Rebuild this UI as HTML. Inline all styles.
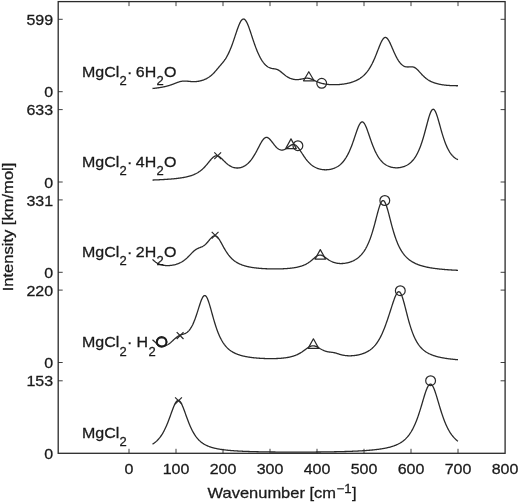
<!DOCTYPE html>
<html><head><meta charset="utf-8"><title>IR spectra</title>
<style>html,body{margin:0;padding:0;background:#fff}svg{display:block}text{font-family:"Liberation Sans",sans-serif;fill:#1a1a1a;stroke:#1a1a1a;stroke-width:0.3px}</style></head><body>
<svg width="520" height="503" viewBox="0 0 520 503">
<rect x="0" y="0" width="520" height="503" fill="#fff"/>
<g fill="none" stroke="#2a2a2a" stroke-width="1.3">
<rect x="58.2" y="1.6" width="446.90000000000003" height="451.7"/>
<path d="M129.00 453.3v-4.5M129.00 1.6v4.5M176.00 453.3v-4.5M176.00 1.6v4.5M223.00 453.3v-4.5M223.00 1.6v4.5M270.00 453.3v-4.5M270.00 1.6v4.5M317.00 453.3v-4.5M317.00 1.6v4.5M364.00 453.3v-4.5M364.00 1.6v4.5M411.00 453.3v-4.5M411.00 1.6v4.5M458.00 453.3v-4.5M458.00 1.6v4.5M58.2 91.70h4.5M505.1 91.70h-4.5M58.2 182.00h4.5M505.1 182.00h-4.5M58.2 272.30h4.5M505.1 272.30h-4.5M58.2 362.50h4.5M505.1 362.50h-4.5M58.2 19.30h4.5M505.1 19.30h-4.5M58.2 109.60h4.5M505.1 109.60h-4.5M58.2 199.90h4.5M505.1 199.90h-4.5M58.2 290.10h4.5M505.1 290.10h-4.5M58.2 380.80h4.5M505.1 380.80h-4.5" stroke-width="0.9"/>
</g>
<g font-size="16" text-anchor="middle">
<text transform="translate(129.0 474) scale(1 0.945)">0</text>
<text transform="translate(176.0 474) scale(1 0.945)">100</text>
<text transform="translate(223.0 474) scale(1 0.945)">200</text>
<text transform="translate(270.0 474) scale(1 0.945)">300</text>
<text transform="translate(317.0 474) scale(1 0.945)">400</text>
<text transform="translate(364.0 474) scale(1 0.945)">500</text>
<text transform="translate(411.0 474) scale(1 0.945)">600</text>
<text transform="translate(458.0 474) scale(1 0.945)">700</text>
<text transform="translate(505.0 474) scale(1 0.945)">800</text>
</g>
<g font-size="16" text-anchor="end">
<text transform="translate(53.1 97.3) scale(1 0.945)">0</text>
<text transform="translate(53.1 24.9) scale(1 0.945)">599</text>
<text transform="translate(53.1 187.6) scale(1 0.945)">0</text>
<text transform="translate(53.1 115.2) scale(1 0.945)">633</text>
<text transform="translate(53.1 277.9) scale(1 0.945)">0</text>
<text transform="translate(53.1 205.5) scale(1 0.945)">331</text>
<text transform="translate(53.1 368.1) scale(1 0.945)">0</text>
<text transform="translate(53.1 295.7) scale(1 0.945)">220</text>
<text transform="translate(53.1 458.8) scale(1 0.945)">0</text>
<text transform="translate(53.1 386.4) scale(1 0.945)">153</text>
</g>
<text transform="translate(207.6 498.2) scale(1.03 0.945)" font-size="16">Wavenumber [cm<tspan font-size="12.8" dy="-5.5" dx="0.5">−1</tspan><tspan dy="5.5" dx="0.5">]</tspan></text>
<text transform="translate(13.4 227) rotate(-90) scale(1.035 0.945)" font-size="16" text-anchor="middle">Intensity [km/mol]</text>
<g fill="none" stroke="#2a2a2a" stroke-width="1.3" stroke-linejoin="round" stroke-linecap="butt">
<path d="M152.50 88.49 L152.97 88.44 L153.44 88.39 L153.91 88.34 L154.38 88.29 L154.85 88.24 L155.32 88.18 L155.79 88.13 L156.26 88.07 L156.73 88.01 L157.20 87.95 L157.67 87.89 L158.14 87.82 L158.61 87.75 L159.08 87.68 L159.55 87.61 L160.02 87.54 L160.49 87.46 L160.96 87.38 L161.43 87.30 L161.90 87.22 L162.37 87.13 L162.84 87.04 L163.31 86.95 L163.78 86.85 L164.25 86.75 L164.72 86.65 L165.19 86.54 L165.66 86.43 L166.13 86.32 L166.60 86.20 L167.07 86.07 L167.54 85.95 L168.01 85.82 L168.48 85.68 L168.95 85.54 L169.42 85.40 L169.89 85.25 L170.36 85.10 L170.83 84.94 L171.30 84.78 L171.77 84.61 L172.24 84.44 L172.71 84.27 L173.18 84.10 L173.65 83.92 L174.12 83.74 L174.59 83.56 L175.06 83.37 L175.53 83.19 L176.00 83.01 L176.47 82.83 L176.94 82.65 L177.41 82.48 L177.88 82.31 L178.35 82.15 L178.82 82.00 L179.29 81.85 L179.76 81.72 L180.23 81.59 L180.70 81.48 L181.17 81.38 L181.64 81.29 L182.11 81.22 L182.58 81.16 L183.05 81.11 L183.52 81.08 L183.99 81.06 L184.46 81.05 L184.93 81.05 L185.40 81.07 L185.87 81.09 L186.34 81.11 L186.81 81.15 L187.28 81.19 L187.75 81.23 L188.22 81.27 L188.69 81.32 L189.16 81.36 L189.63 81.41 L190.10 81.45 L190.57 81.49 L191.04 81.53 L191.51 81.56 L191.98 81.59 L192.45 81.61 L192.92 81.62 L193.39 81.63 L193.86 81.63 L194.33 81.63 L194.80 81.62 L195.27 81.60 L195.74 81.57 L196.21 81.54 L196.68 81.50 L197.15 81.45 L197.62 81.39 L198.09 81.32 L198.56 81.25 L199.03 81.17 L199.50 81.08 L199.97 80.98 L200.44 80.87 L200.91 80.75 L201.38 80.63 L201.85 80.49 L202.32 80.35 L202.79 80.19 L203.26 80.03 L203.73 79.85 L204.20 79.67 L204.67 79.47 L205.14 79.27 L205.61 79.05 L206.08 78.82 L206.55 78.58 L207.02 78.32 L207.49 78.05 L207.96 77.77 L208.43 77.48 L208.90 77.17 L209.37 76.84 L209.84 76.50 L210.31 76.14 L210.78 75.77 L211.25 75.38 L211.72 74.98 L212.19 74.55 L212.66 74.11 L213.13 73.66 L213.60 73.18 L214.07 72.70 L214.54 72.19 L215.01 71.68 L215.48 71.15 L215.95 70.61 L216.42 70.06 L216.89 69.50 L217.36 68.95 L217.83 68.38 L218.30 67.82 L218.77 67.26 L219.24 66.70 L219.71 66.15 L220.18 65.60 L220.65 65.05 L221.12 64.50 L221.59 63.94 L222.06 63.39 L222.53 62.82 L223.00 62.24 L223.47 61.65 L223.94 61.03 L224.41 60.40 L224.88 59.73 L225.35 59.04 L225.82 58.31 L226.29 57.55 L226.76 56.75 L227.23 55.91 L227.70 55.03 L228.17 54.11 L228.64 53.15 L229.11 52.15 L229.58 51.10 L230.05 50.01 L230.52 48.87 L230.99 47.70 L231.46 46.48 L231.93 45.23 L232.40 43.94 L232.87 42.62 L233.34 41.27 L233.81 39.90 L234.28 38.50 L234.75 37.09 L235.22 35.67 L235.69 34.25 L236.16 32.84 L236.63 31.44 L237.10 30.06 L237.57 28.72 L238.04 27.42 L238.51 26.18 L238.98 25.00 L239.45 23.90 L239.92 22.88 L240.39 21.97 L240.86 21.16 L241.33 20.47 L241.80 19.91 L242.27 19.47 L242.74 19.18 L243.21 19.03 L243.68 19.02 L244.15 19.16 L244.62 19.43 L245.09 19.85 L245.56 20.40 L246.03 21.08 L246.50 21.87 L246.97 22.78 L247.44 23.79 L247.91 24.88 L248.38 26.06 L248.85 27.30 L249.32 28.60 L249.79 29.95 L250.26 31.33 L250.73 32.74 L251.20 34.16 L251.67 35.60 L252.14 37.03 L252.61 38.46 L253.08 39.88 L253.55 41.28 L254.02 42.66 L254.49 44.01 L254.96 45.33 L255.43 46.62 L255.90 47.87 L256.37 49.09 L256.84 50.27 L257.31 51.41 L257.78 52.51 L258.25 53.57 L258.72 54.59 L259.19 55.56 L259.66 56.50 L260.13 57.40 L260.60 58.25 L261.07 59.07 L261.54 59.85 L262.01 60.59 L262.48 61.29 L262.95 61.95 L263.42 62.58 L263.89 63.17 L264.36 63.73 L264.83 64.25 L265.30 64.74 L265.77 65.19 L266.24 65.61 L266.71 66.00 L267.18 66.36 L267.65 66.69 L268.12 66.98 L268.59 67.25 L269.06 67.49 L269.53 67.71 L270.00 67.89 L270.47 68.06 L270.94 68.20 L271.41 68.32 L271.88 68.43 L272.35 68.52 L272.82 68.60 L273.29 68.67 L273.76 68.74 L274.23 68.82 L274.70 68.89 L275.17 68.98 L275.64 69.08 L276.11 69.19 L276.58 69.33 L277.05 69.49 L277.52 69.68 L277.99 69.90 L278.46 70.14 L278.93 70.42 L279.40 70.71 L279.87 71.04 L280.34 71.38 L280.81 71.74 L281.28 72.12 L281.75 72.51 L282.22 72.90 L282.69 73.30 L283.16 73.69 L283.63 74.08 L284.10 74.47 L284.57 74.85 L285.04 75.22 L285.51 75.57 L285.98 75.92 L286.45 76.25 L286.92 76.56 L287.39 76.86 L287.86 77.14 L288.33 77.41 L288.80 77.66 L289.27 77.89 L289.74 78.11 L290.21 78.32 L290.68 78.51 L291.15 78.68 L291.62 78.84 L292.09 78.98 L292.56 79.11 L293.03 79.22 L293.50 79.32 L293.97 79.41 L294.44 79.48 L294.91 79.54 L295.38 79.58 L295.85 79.61 L296.32 79.63 L296.79 79.64 L297.26 79.63 L297.73 79.61 L298.20 79.58 L298.67 79.54 L299.14 79.48 L299.61 79.42 L300.08 79.35 L300.55 79.26 L301.02 79.17 L301.49 79.08 L301.96 78.98 L302.43 78.87 L302.90 78.77 L303.37 78.66 L303.84 78.56 L304.31 78.47 L304.78 78.38 L305.25 78.31 L305.72 78.25 L306.19 78.20 L306.66 78.18 L307.13 78.17 L307.60 78.19 L308.07 78.23 L308.54 78.29 L309.01 78.37 L309.48 78.48 L309.95 78.61 L310.42 78.76 L310.89 78.92 L311.36 79.10 L311.83 79.30 L312.30 79.51 L312.77 79.72 L313.24 79.94 L313.71 80.16 L314.18 80.39 L314.65 80.61 L315.12 80.84 L315.59 81.06 L316.06 81.27 L316.53 81.48 L317.00 81.69 L317.47 81.88 L317.94 82.07 L318.41 82.26 L318.88 82.43 L319.35 82.60 L319.82 82.76 L320.29 82.91 L320.76 83.05 L321.23 83.19 L321.70 83.31 L322.17 83.44 L322.64 83.55 L323.11 83.66 L323.58 83.76 L324.05 83.85 L324.52 83.94 L324.99 84.03 L325.46 84.10 L325.93 84.17 L326.40 84.24 L326.87 84.30 L327.34 84.36 L327.81 84.41 L328.28 84.46 L328.75 84.50 L329.22 84.54 L329.69 84.57 L330.16 84.61 L330.63 84.63 L331.10 84.66 L331.57 84.67 L332.04 84.69 L332.51 84.70 L332.98 84.71 L333.45 84.72 L333.92 84.72 L334.39 84.72 L334.86 84.71 L335.33 84.71 L335.80 84.69 L336.27 84.68 L336.74 84.66 L337.21 84.64 L337.68 84.62 L338.15 84.59 L338.62 84.56 L339.09 84.53 L339.56 84.49 L340.03 84.45 L340.50 84.41 L340.97 84.37 L341.44 84.32 L341.91 84.26 L342.38 84.21 L342.85 84.15 L343.32 84.09 L343.79 84.02 L344.26 83.95 L344.73 83.88 L345.20 83.80 L345.67 83.72 L346.14 83.63 L346.61 83.54 L347.08 83.44 L347.55 83.35 L348.02 83.24 L348.49 83.13 L348.96 83.02 L349.43 82.90 L349.90 82.78 L350.37 82.65 L350.84 82.52 L351.31 82.38 L351.78 82.23 L352.25 82.08 L352.72 81.92 L353.19 81.75 L353.66 81.58 L354.13 81.40 L354.60 81.21 L355.07 81.02 L355.54 80.81 L356.01 80.60 L356.48 80.38 L356.95 80.15 L357.42 79.91 L357.89 79.65 L358.36 79.39 L358.83 79.12 L359.30 78.83 L359.77 78.54 L360.24 78.23 L360.71 77.90 L361.18 77.56 L361.65 77.21 L362.12 76.84 L362.59 76.46 L363.06 76.06 L363.53 75.64 L364.00 75.20 L364.47 74.74 L364.94 74.27 L365.41 73.77 L365.88 73.25 L366.35 72.70 L366.82 72.13 L367.29 71.54 L367.76 70.92 L368.23 70.27 L368.70 69.60 L369.17 68.89 L369.64 68.15 L370.11 67.39 L370.58 66.59 L371.05 65.76 L371.52 64.89 L371.99 64.00 L372.46 63.06 L372.93 62.10 L373.40 61.10 L373.87 60.06 L374.34 59.00 L374.81 57.90 L375.28 56.78 L375.75 55.62 L376.22 54.45 L376.69 53.26 L377.16 52.05 L377.63 50.83 L378.10 49.62 L378.57 48.40 L379.04 47.21 L379.51 46.03 L379.98 44.88 L380.45 43.78 L380.92 42.73 L381.39 41.75 L381.86 40.84 L382.33 40.02 L382.80 39.30 L383.27 38.68 L383.74 38.18 L384.21 37.80 L384.68 37.55 L385.15 37.42 L385.62 37.43 L386.09 37.57 L386.56 37.84 L387.03 38.22 L387.50 38.73 L387.97 39.34 L388.44 40.04 L388.91 40.84 L389.38 41.71 L389.85 42.64 L390.32 43.63 L390.79 44.66 L391.26 45.73 L391.73 46.81 L392.20 47.90 L392.67 49.00 L393.14 50.10 L393.61 51.18 L394.08 52.24 L394.55 53.28 L395.02 54.30 L395.49 55.28 L395.96 56.23 L396.43 57.14 L396.90 58.01 L397.37 58.85 L397.84 59.64 L398.31 60.39 L398.78 61.10 L399.25 61.76 L399.72 62.39 L400.19 62.96 L400.66 63.50 L401.13 64.00 L401.60 64.45 L402.07 64.86 L402.54 65.24 L403.01 65.57 L403.48 65.86 L403.95 66.12 L404.42 66.34 L404.89 66.52 L405.36 66.67 L405.83 66.79 L406.30 66.88 L406.77 66.94 L407.24 66.97 L407.71 66.99 L408.18 66.98 L408.65 66.96 L409.12 66.93 L409.59 66.89 L410.06 66.86 L410.53 66.83 L411.00 66.80 L411.47 66.80 L411.94 66.82 L412.41 66.86 L412.88 66.93 L413.35 67.05 L413.82 67.20 L414.29 67.39 L414.76 67.62 L415.23 67.90 L415.70 68.22 L416.17 68.57 L416.64 68.97 L417.11 69.39 L417.58 69.84 L418.05 70.32 L418.52 70.82 L418.99 71.33 L419.46 71.84 L419.93 72.37 L420.40 72.89 L420.87 73.41 L421.34 73.93 L421.81 74.44 L422.28 74.93 L422.75 75.42 L423.22 75.89 L423.69 76.34 L424.16 76.78 L424.63 77.21 L425.10 77.62 L425.57 78.01 L426.04 78.39 L426.51 78.75 L426.98 79.09 L427.45 79.42 L427.92 79.74 L428.39 80.04 L428.86 80.32 L429.33 80.60 L429.80 80.86 L430.27 81.11 L430.74 81.35 L431.21 81.57 L431.68 81.79 L432.15 82.00 L432.62 82.19 L433.09 82.38 L433.56 82.56 L434.03 82.73 L434.50 82.90 L434.97 83.05 L435.44 83.20 L435.91 83.34 L436.38 83.48 L436.85 83.61 L437.32 83.73 L437.79 83.85 L438.26 83.96 L438.73 84.07 L439.20 84.17 L439.67 84.27 L440.14 84.36 L440.61 84.45 L441.08 84.53 L441.55 84.62 L442.02 84.69 L442.49 84.77 L442.96 84.84 L443.43 84.90 L443.90 84.96 L444.37 85.02 L444.84 85.08 L445.31 85.14 L445.78 85.19 L446.25 85.23 L446.72 85.28 L447.19 85.32 L447.66 85.36 L448.13 85.40 L448.60 85.44 L449.07 85.47 L449.54 85.50 L450.01 85.53 L450.48 85.56 L450.95 85.58 L451.42 85.61 L451.89 85.63 L452.36 85.65 L452.83 85.66 L453.30 85.68 L453.77 85.69 L454.24 85.70 L454.71 85.71 L455.18 85.72 L455.65 85.72 L456.12 85.73 L456.59 85.73 L457.06 85.73 L457.53 85.73 L458.00 85.72"/>
<path d="M152.50 180.05 L152.97 180.03 L153.44 180.01 L153.91 179.99 L154.38 179.97 L154.85 179.95 L155.32 179.93 L155.79 179.91 L156.26 179.89 L156.73 179.87 L157.20 179.85 L157.67 179.83 L158.14 179.81 L158.61 179.79 L159.08 179.76 L159.55 179.74 L160.02 179.72 L160.49 179.69 L160.96 179.67 L161.43 179.65 L161.90 179.62 L162.37 179.59 L162.84 179.57 L163.31 179.54 L163.78 179.51 L164.25 179.49 L164.72 179.46 L165.19 179.43 L165.66 179.40 L166.13 179.37 L166.60 179.34 L167.07 179.31 L167.54 179.27 L168.01 179.24 L168.48 179.21 L168.95 179.17 L169.42 179.14 L169.89 179.10 L170.36 179.06 L170.83 179.03 L171.30 178.99 L171.77 178.95 L172.24 178.91 L172.71 178.86 L173.18 178.82 L173.65 178.78 L174.12 178.73 L174.59 178.69 L175.06 178.64 L175.53 178.59 L176.00 178.54 L176.47 178.49 L176.94 178.43 L177.41 178.38 L177.88 178.32 L178.35 178.26 L178.82 178.20 L179.29 178.14 L179.76 178.08 L180.23 178.01 L180.70 177.95 L181.17 177.88 L181.64 177.81 L182.11 177.73 L182.58 177.66 L183.05 177.58 L183.52 177.49 L183.99 177.41 L184.46 177.32 L184.93 177.23 L185.40 177.14 L185.87 177.04 L186.34 176.94 L186.81 176.83 L187.28 176.72 L187.75 176.61 L188.22 176.49 L188.69 176.37 L189.16 176.24 L189.63 176.11 L190.10 175.97 L190.57 175.82 L191.04 175.67 L191.51 175.52 L191.98 175.35 L192.45 175.18 L192.92 175.00 L193.39 174.82 L193.86 174.62 L194.33 174.42 L194.80 174.21 L195.27 173.99 L195.74 173.76 L196.21 173.52 L196.68 173.27 L197.15 173.00 L197.62 172.73 L198.09 172.44 L198.56 172.14 L199.03 171.83 L199.50 171.51 L199.97 171.17 L200.44 170.82 L200.91 170.45 L201.38 170.07 L201.85 169.67 L202.32 169.26 L202.79 168.83 L203.26 168.39 L203.73 167.93 L204.20 167.45 L204.67 166.96 L205.14 166.45 L205.61 165.93 L206.08 165.40 L206.55 164.85 L207.02 164.30 L207.49 163.73 L207.96 163.16 L208.43 162.58 L208.90 162.00 L209.37 161.42 L209.84 160.84 L210.31 160.27 L210.78 159.72 L211.25 159.18 L211.72 158.66 L212.19 158.18 L212.66 157.72 L213.13 157.30 L213.60 156.92 L214.07 156.60 L214.54 156.32 L215.01 156.09 L215.48 155.93 L215.95 155.82 L216.42 155.77 L216.89 155.78 L217.36 155.86 L217.83 155.98 L218.30 156.17 L218.77 156.40 L219.24 156.68 L219.71 157.00 L220.18 157.35 L220.65 157.74 L221.12 158.15 L221.59 158.58 L222.06 159.03 L222.53 159.49 L223.00 159.96 L223.47 160.43 L223.94 160.90 L224.41 161.36 L224.88 161.82 L225.35 162.27 L225.82 162.71 L226.29 163.13 L226.76 163.54 L227.23 163.93 L227.70 164.31 L228.17 164.67 L228.64 165.01 L229.11 165.33 L229.58 165.64 L230.05 165.92 L230.52 166.19 L230.99 166.44 L231.46 166.67 L231.93 166.88 L232.40 167.07 L232.87 167.24 L233.34 167.40 L233.81 167.54 L234.28 167.66 L234.75 167.76 L235.22 167.85 L235.69 167.91 L236.16 167.96 L236.63 168.00 L237.10 168.01 L237.57 168.01 L238.04 167.99 L238.51 167.96 L238.98 167.91 L239.45 167.84 L239.92 167.75 L240.39 167.65 L240.86 167.53 L241.33 167.39 L241.80 167.23 L242.27 167.06 L242.74 166.87 L243.21 166.65 L243.68 166.42 L244.15 166.17 L244.62 165.91 L245.09 165.62 L245.56 165.31 L246.03 164.97 L246.50 164.62 L246.97 164.25 L247.44 163.85 L247.91 163.43 L248.38 162.99 L248.85 162.52 L249.32 162.03 L249.79 161.51 L250.26 160.97 L250.73 160.40 L251.20 159.81 L251.67 159.19 L252.14 158.54 L252.61 157.87 L253.08 157.17 L253.55 156.44 L254.02 155.69 L254.49 154.91 L254.96 154.11 L255.43 153.29 L255.90 152.45 L256.37 151.58 L256.84 150.70 L257.31 149.81 L257.78 148.91 L258.25 148.00 L258.72 147.09 L259.19 146.18 L259.66 145.28 L260.13 144.40 L260.60 143.54 L261.07 142.71 L261.54 141.91 L262.01 141.16 L262.48 140.45 L262.95 139.81 L263.42 139.23 L263.89 138.72 L264.36 138.29 L264.83 137.94 L265.30 137.67 L265.77 137.50 L266.24 137.40 L266.71 137.40 L267.18 137.48 L267.65 137.64 L268.12 137.88 L268.59 138.19 L269.06 138.56 L269.53 139.00 L270.00 139.48 L270.47 140.00 L270.94 140.56 L271.41 141.15 L271.88 141.75 L272.35 142.36 L272.82 142.98 L273.29 143.60 L273.76 144.21 L274.23 144.81 L274.70 145.39 L275.17 145.94 L275.64 146.47 L276.11 146.97 L276.58 147.44 L277.05 147.88 L277.52 148.28 L277.99 148.64 L278.46 148.96 L278.93 149.24 L279.40 149.48 L279.87 149.68 L280.34 149.84 L280.81 149.95 L281.28 150.03 L281.75 150.06 L282.22 150.06 L282.69 150.01 L283.16 149.92 L283.63 149.80 L284.10 149.64 L284.57 149.45 L285.04 149.22 L285.51 148.97 L285.98 148.68 L286.45 148.38 L286.92 148.05 L287.39 147.71 L287.86 147.36 L288.33 147.00 L288.80 146.65 L289.27 146.30 L289.74 145.96 L290.21 145.64 L290.68 145.34 L291.15 145.08 L291.62 144.85 L292.09 144.67 L292.56 144.54 L293.03 144.46 L293.50 144.44 L293.97 144.49 L294.44 144.60 L294.91 144.77 L295.38 145.01 L295.85 145.32 L296.32 145.69 L296.79 146.12 L297.26 146.60 L297.73 147.13 L298.20 147.71 L298.67 148.33 L299.14 148.98 L299.61 149.65 L300.08 150.35 L300.55 151.07 L301.02 151.79 L301.49 152.52 L301.96 153.26 L302.43 153.99 L302.90 154.71 L303.37 155.43 L303.84 156.13 L304.31 156.82 L304.78 157.49 L305.25 158.15 L305.72 158.79 L306.19 159.40 L306.66 160.00 L307.13 160.57 L307.60 161.13 L308.07 161.66 L308.54 162.18 L309.01 162.67 L309.48 163.14 L309.95 163.59 L310.42 164.02 L310.89 164.43 L311.36 164.82 L311.83 165.19 L312.30 165.54 L312.77 165.87 L313.24 166.19 L313.71 166.49 L314.18 166.78 L314.65 167.04 L315.12 167.30 L315.59 167.53 L316.06 167.76 L316.53 167.97 L317.00 168.16 L317.47 168.35 L317.94 168.52 L318.41 168.67 L318.88 168.82 L319.35 168.96 L319.82 169.08 L320.29 169.19 L320.76 169.29 L321.23 169.38 L321.70 169.47 L322.17 169.54 L322.64 169.60 L323.11 169.65 L323.58 169.70 L324.05 169.73 L324.52 169.75 L324.99 169.77 L325.46 169.78 L325.93 169.78 L326.40 169.77 L326.87 169.75 L327.34 169.72 L327.81 169.68 L328.28 169.64 L328.75 169.58 L329.22 169.52 L329.69 169.44 L330.16 169.36 L330.63 169.27 L331.10 169.17 L331.57 169.06 L332.04 168.93 L332.51 168.80 L332.98 168.65 L333.45 168.50 L333.92 168.33 L334.39 168.15 L334.86 167.96 L335.33 167.75 L335.80 167.53 L336.27 167.29 L336.74 167.04 L337.21 166.77 L337.68 166.49 L338.15 166.19 L338.62 165.87 L339.09 165.53 L339.56 165.17 L340.03 164.79 L340.50 164.39 L340.97 163.97 L341.44 163.52 L341.91 163.05 L342.38 162.55 L342.85 162.02 L343.32 161.47 L343.79 160.88 L344.26 160.27 L344.73 159.62 L345.20 158.94 L345.67 158.23 L346.14 157.48 L346.61 156.69 L347.08 155.87 L347.55 155.01 L348.02 154.11 L348.49 153.16 L348.96 152.18 L349.43 151.15 L349.90 150.09 L350.37 148.98 L350.84 147.83 L351.31 146.64 L351.78 145.42 L352.25 144.15 L352.72 142.85 L353.19 141.52 L353.66 140.17 L354.13 138.79 L354.60 137.40 L355.07 136.00 L355.54 134.61 L356.01 133.22 L356.48 131.85 L356.95 130.52 L357.42 129.24 L357.89 128.01 L358.36 126.86 L358.83 125.79 L359.30 124.83 L359.77 123.99 L360.24 123.27 L360.71 122.70 L361.18 122.27 L361.65 122.00 L362.12 121.90 L362.59 121.95 L363.06 122.17 L363.53 122.54 L364.00 123.07 L364.47 123.74 L364.94 124.54 L365.41 125.46 L365.88 126.48 L366.35 127.60 L366.82 128.79 L367.29 130.04 L367.76 131.35 L368.23 132.69 L368.70 134.05 L369.17 135.43 L369.64 136.81 L370.11 138.18 L370.58 139.54 L371.05 140.88 L371.52 142.19 L371.99 143.47 L372.46 144.72 L372.93 145.94 L373.40 147.11 L373.87 148.25 L374.34 149.34 L374.81 150.40 L375.28 151.41 L375.75 152.38 L376.22 153.31 L376.69 154.19 L377.16 155.04 L377.63 155.85 L378.10 156.62 L378.57 157.35 L379.04 158.05 L379.51 158.71 L379.98 159.34 L380.45 159.94 L380.92 160.51 L381.39 161.04 L381.86 161.55 L382.33 162.03 L382.80 162.48 L383.27 162.91 L383.74 163.31 L384.21 163.69 L384.68 164.05 L385.15 164.38 L385.62 164.70 L386.09 164.99 L386.56 165.27 L387.03 165.53 L387.50 165.77 L387.97 165.99 L388.44 166.20 L388.91 166.39 L389.38 166.57 L389.85 166.74 L390.32 166.89 L390.79 167.03 L391.26 167.15 L391.73 167.27 L392.20 167.37 L392.67 167.46 L393.14 167.54 L393.61 167.61 L394.08 167.66 L394.55 167.71 L395.02 167.75 L395.49 167.78 L395.96 167.79 L396.43 167.80 L396.90 167.80 L397.37 167.78 L397.84 167.76 L398.31 167.73 L398.78 167.69 L399.25 167.64 L399.72 167.58 L400.19 167.51 L400.66 167.42 L401.13 167.33 L401.60 167.23 L402.07 167.12 L402.54 166.99 L403.01 166.86 L403.48 166.71 L403.95 166.55 L404.42 166.37 L404.89 166.19 L405.36 165.99 L405.83 165.77 L406.30 165.54 L406.77 165.30 L407.24 165.04 L407.71 164.76 L408.18 164.46 L408.65 164.15 L409.12 163.81 L409.59 163.45 L410.06 163.08 L410.53 162.67 L411.00 162.25 L411.47 161.80 L411.94 161.32 L412.41 160.82 L412.88 160.28 L413.35 159.72 L413.82 159.12 L414.29 158.49 L414.76 157.82 L415.23 157.12 L415.70 156.37 L416.17 155.59 L416.64 154.76 L417.11 153.90 L417.58 152.98 L418.05 152.02 L418.52 151.01 L418.99 149.94 L419.46 148.83 L419.93 147.66 L420.40 146.44 L420.87 145.16 L421.34 143.83 L421.81 142.44 L422.28 141.00 L422.75 139.50 L423.22 137.95 L423.69 136.35 L424.16 134.71 L424.63 133.02 L425.10 131.29 L425.57 129.54 L426.04 127.77 L426.51 125.99 L426.98 124.21 L427.45 122.45 L427.92 120.72 L428.39 119.05 L428.86 117.44 L429.33 115.92 L429.80 114.51 L430.27 113.23 L430.74 112.10 L431.21 111.14 L431.68 110.36 L432.15 109.78 L432.62 109.40 L433.09 109.25 L433.56 109.31 L434.03 109.58 L434.50 110.07 L434.97 110.75 L435.44 111.62 L435.91 112.66 L436.38 113.85 L436.85 115.18 L437.32 116.61 L437.79 118.13 L438.26 119.72 L438.73 121.37 L439.20 123.05 L439.67 124.74 L440.14 126.45 L440.61 128.14 L441.08 129.81 L441.55 131.46 L442.02 133.06 L442.49 134.63 L442.96 136.15 L443.43 137.62 L443.90 139.04 L444.37 140.40 L444.84 141.71 L445.31 142.96 L445.78 144.16 L446.25 145.30 L446.72 146.38 L447.19 147.41 L447.66 148.39 L448.13 149.31 L448.60 150.19 L449.07 151.01 L449.54 151.79 L450.01 152.53 L450.48 153.22 L450.95 153.87 L451.42 154.48 L451.89 155.05 L452.36 155.58 L452.83 156.08 L453.30 156.54 L453.77 156.98 L454.24 157.38 L454.71 157.75 L455.18 158.09 L455.65 158.41 L456.12 158.70 L456.59 158.97 L457.06 159.21 L457.53 159.43 L458.00 159.63"/>
<path d="M152.50 259.36 L152.97 259.82 L153.44 260.27 L153.91 260.69 L154.38 261.10 L154.85 261.49 L155.32 261.85 L155.79 262.19 L156.26 262.51 L156.73 262.82 L157.20 263.10 L157.67 263.36 L158.14 263.60 L158.61 263.82 L159.08 264.03 L159.55 264.22 L160.02 264.40 L160.49 264.56 L160.96 264.70 L161.43 264.84 L161.90 264.96 L162.37 265.07 L162.84 265.16 L163.31 265.25 L163.78 265.33 L164.25 265.39 L164.72 265.45 L165.19 265.49 L165.66 265.53 L166.13 265.56 L166.60 265.58 L167.07 265.60 L167.54 265.60 L168.01 265.60 L168.48 265.59 L168.95 265.57 L169.42 265.54 L169.89 265.51 L170.36 265.47 L170.83 265.42 L171.30 265.36 L171.77 265.30 L172.24 265.23 L172.71 265.15 L173.18 265.07 L173.65 264.97 L174.12 264.87 L174.59 264.76 L175.06 264.65 L175.53 264.52 L176.00 264.39 L176.47 264.24 L176.94 264.09 L177.41 263.93 L177.88 263.76 L178.35 263.57 L178.82 263.38 L179.29 263.18 L179.76 262.96 L180.23 262.73 L180.70 262.50 L181.17 262.24 L181.64 261.98 L182.11 261.70 L182.58 261.41 L183.05 261.11 L183.52 260.79 L183.99 260.45 L184.46 260.10 L184.93 259.74 L185.40 259.36 L185.87 258.97 L186.34 258.56 L186.81 258.14 L187.28 257.70 L187.75 257.25 L188.22 256.79 L188.69 256.32 L189.16 255.84 L189.63 255.35 L190.10 254.86 L190.57 254.36 L191.04 253.87 L191.51 253.38 L191.98 252.90 L192.45 252.42 L192.92 251.96 L193.39 251.52 L193.86 251.09 L194.33 250.69 L194.80 250.31 L195.27 249.96 L195.74 249.63 L196.21 249.32 L196.68 249.05 L197.15 248.79 L197.62 248.56 L198.09 248.34 L198.56 248.14 L199.03 247.95 L199.50 247.76 L199.97 247.58 L200.44 247.40 L200.91 247.21 L201.38 247.01 L201.85 246.79 L202.32 246.56 L202.79 246.30 L203.26 246.02 L203.73 245.72 L204.20 245.38 L204.67 245.02 L205.14 244.63 L205.61 244.21 L206.08 243.76 L206.55 243.28 L207.02 242.78 L207.49 242.25 L207.96 241.71 L208.43 241.15 L208.90 240.58 L209.37 240.01 L209.84 239.44 L210.31 238.89 L210.78 238.35 L211.25 237.84 L211.72 237.36 L212.19 236.93 L212.66 236.55 L213.13 236.24 L213.60 235.99 L214.07 235.82 L214.54 235.73 L215.01 235.73 L215.48 235.82 L215.95 235.99 L216.42 236.26 L216.89 236.61 L217.36 237.04 L217.83 237.55 L218.30 238.13 L218.77 238.77 L219.24 239.47 L219.71 240.22 L220.18 241.01 L220.65 241.82 L221.12 242.66 L221.59 243.52 L222.06 244.38 L222.53 245.25 L223.00 246.11 L223.47 246.97 L223.94 247.81 L224.41 248.64 L224.88 249.45 L225.35 250.24 L225.82 251.00 L226.29 251.75 L226.76 252.47 L227.23 253.16 L227.70 253.83 L228.17 254.47 L228.64 255.09 L229.11 255.68 L229.58 256.25 L230.05 256.80 L230.52 257.32 L230.99 257.82 L231.46 258.30 L231.93 258.75 L232.40 259.19 L232.87 259.61 L233.34 260.01 L233.81 260.39 L234.28 260.76 L234.75 261.10 L235.22 261.44 L235.69 261.76 L236.16 262.06 L236.63 262.35 L237.10 262.63 L237.57 262.90 L238.04 263.15 L238.51 263.40 L238.98 263.63 L239.45 263.86 L239.92 264.07 L240.39 264.28 L240.86 264.48 L241.33 264.66 L241.80 264.85 L242.27 265.02 L242.74 265.19 L243.21 265.35 L243.68 265.50 L244.15 265.65 L244.62 265.79 L245.09 265.93 L245.56 266.06 L246.03 266.18 L246.50 266.31 L246.97 266.42 L247.44 266.53 L247.91 266.64 L248.38 266.74 L248.85 266.84 L249.32 266.94 L249.79 267.03 L250.26 267.12 L250.73 267.21 L251.20 267.29 L251.67 267.37 L252.14 267.44 L252.61 267.52 L253.08 267.59 L253.55 267.66 L254.02 267.72 L254.49 267.79 L254.96 267.85 L255.43 267.90 L255.90 267.96 L256.37 268.01 L256.84 268.07 L257.31 268.12 L257.78 268.16 L258.25 268.21 L258.72 268.26 L259.19 268.30 L259.66 268.34 L260.13 268.38 L260.60 268.42 L261.07 268.45 L261.54 268.49 L262.01 268.52 L262.48 268.55 L262.95 268.58 L263.42 268.61 L263.89 268.64 L264.36 268.66 L264.83 268.69 L265.30 268.71 L265.77 268.73 L266.24 268.75 L266.71 268.77 L267.18 268.79 L267.65 268.81 L268.12 268.83 L268.59 268.84 L269.06 268.86 L269.53 268.87 L270.00 268.88 L270.47 268.89 L270.94 268.90 L271.41 268.91 L271.88 268.92 L272.35 268.92 L272.82 268.93 L273.29 268.93 L273.76 268.93 L274.23 268.94 L274.70 268.94 L275.17 268.94 L275.64 268.94 L276.11 268.93 L276.58 268.93 L277.05 268.93 L277.52 268.92 L277.99 268.91 L278.46 268.90 L278.93 268.90 L279.40 268.89 L279.87 268.87 L280.34 268.86 L280.81 268.85 L281.28 268.83 L281.75 268.82 L282.22 268.80 L282.69 268.78 L283.16 268.76 L283.63 268.74 L284.10 268.71 L284.57 268.69 L285.04 268.66 L285.51 268.63 L285.98 268.60 L286.45 268.57 L286.92 268.54 L287.39 268.50 L287.86 268.47 L288.33 268.43 L288.80 268.39 L289.27 268.34 L289.74 268.30 L290.21 268.25 L290.68 268.20 L291.15 268.15 L291.62 268.09 L292.09 268.03 L292.56 267.97 L293.03 267.91 L293.50 267.84 L293.97 267.77 L294.44 267.70 L294.91 267.62 L295.38 267.54 L295.85 267.46 L296.32 267.37 L296.79 267.28 L297.26 267.18 L297.73 267.08 L298.20 266.97 L298.67 266.86 L299.14 266.74 L299.61 266.62 L300.08 266.49 L300.55 266.35 L301.02 266.20 L301.49 266.05 L301.96 265.90 L302.43 265.73 L302.90 265.55 L303.37 265.37 L303.84 265.18 L304.31 264.98 L304.78 264.76 L305.25 264.54 L305.72 264.31 L306.19 264.06 L306.66 263.80 L307.13 263.53 L307.60 263.25 L308.07 262.96 L308.54 262.65 L309.01 262.33 L309.48 262.00 L309.95 261.65 L310.42 261.29 L310.89 260.92 L311.36 260.54 L311.83 260.15 L312.30 259.75 L312.77 259.35 L313.24 258.95 L313.71 258.54 L314.18 258.14 L314.65 257.74 L315.12 257.35 L315.59 256.98 L316.06 256.63 L316.53 256.30 L317.00 256.00 L317.47 255.74 L317.94 255.52 L318.41 255.33 L318.88 255.20 L319.35 255.11 L319.82 255.06 L320.29 255.07 L320.76 255.13 L321.23 255.23 L321.70 255.37 L322.17 255.56 L322.64 255.78 L323.11 256.03 L323.58 256.31 L324.05 256.62 L324.52 256.94 L324.99 257.27 L325.46 257.61 L325.93 257.95 L326.40 258.29 L326.87 258.63 L327.34 258.97 L327.81 259.30 L328.28 259.62 L328.75 259.93 L329.22 260.22 L329.69 260.51 L330.16 260.78 L330.63 261.04 L331.10 261.28 L331.57 261.51 L332.04 261.72 L332.51 261.92 L332.98 262.11 L333.45 262.29 L333.92 262.45 L334.39 262.60 L334.86 262.73 L335.33 262.86 L335.80 262.97 L336.27 263.07 L336.74 263.16 L337.21 263.24 L337.68 263.31 L338.15 263.37 L338.62 263.42 L339.09 263.46 L339.56 263.49 L340.03 263.52 L340.50 263.53 L340.97 263.54 L341.44 263.53 L341.91 263.52 L342.38 263.51 L342.85 263.48 L343.32 263.44 L343.79 263.40 L344.26 263.35 L344.73 263.29 L345.20 263.23 L345.67 263.15 L346.14 263.07 L346.61 262.98 L347.08 262.88 L347.55 262.78 L348.02 262.66 L348.49 262.54 L348.96 262.41 L349.43 262.27 L349.90 262.12 L350.37 261.96 L350.84 261.80 L351.31 261.62 L351.78 261.43 L352.25 261.23 L352.72 261.03 L353.19 260.81 L353.66 260.58 L354.13 260.33 L354.60 260.08 L355.07 259.81 L355.54 259.53 L356.01 259.23 L356.48 258.92 L356.95 258.60 L357.42 258.26 L357.89 257.90 L358.36 257.52 L358.83 257.13 L359.30 256.71 L359.77 256.28 L360.24 255.82 L360.71 255.34 L361.18 254.84 L361.65 254.31 L362.12 253.76 L362.59 253.18 L363.06 252.57 L363.53 251.94 L364.00 251.27 L364.47 250.56 L364.94 249.82 L365.41 249.05 L365.88 248.24 L366.35 247.38 L366.82 246.49 L367.29 245.55 L367.76 244.56 L368.23 243.53 L368.70 242.45 L369.17 241.32 L369.64 240.13 L370.11 238.90 L370.58 237.60 L371.05 236.26 L371.52 234.85 L371.99 233.39 L372.46 231.88 L372.93 230.31 L373.40 228.69 L373.87 227.02 L374.34 225.31 L374.81 223.56 L375.28 221.78 L375.75 219.98 L376.22 218.16 L376.69 216.35 L377.16 214.55 L377.63 212.78 L378.10 211.05 L378.57 209.39 L379.04 207.82 L379.51 206.35 L379.98 205.00 L380.45 203.80 L380.92 202.77 L381.39 201.92 L381.86 201.26 L382.33 200.81 L382.80 200.58 L383.27 200.57 L383.74 200.78 L384.21 201.21 L384.68 201.85 L385.15 202.69 L385.62 203.71 L386.09 204.90 L386.56 206.24 L387.03 207.70 L387.50 209.28 L387.97 210.94 L388.44 212.67 L388.91 214.45 L389.38 216.27 L389.85 218.09 L390.32 219.93 L390.79 221.75 L391.26 223.55 L391.73 225.32 L392.20 227.05 L392.67 228.74 L393.14 230.39 L393.61 231.98 L394.08 233.52 L394.55 235.01 L395.02 236.44 L395.49 237.81 L395.96 239.13 L396.43 240.40 L396.90 241.61 L397.37 242.77 L397.84 243.88 L398.31 244.94 L398.78 245.95 L399.25 246.92 L399.72 247.84 L400.19 248.72 L400.66 249.56 L401.13 250.36 L401.60 251.13 L402.07 251.86 L402.54 252.56 L403.01 253.22 L403.48 253.86 L403.95 254.47 L404.42 255.05 L404.89 255.61 L405.36 256.14 L405.83 256.65 L406.30 257.14 L406.77 257.60 L407.24 258.05 L407.71 258.47 L408.18 258.88 L408.65 259.28 L409.12 259.65 L409.59 260.01 L410.06 260.36 L410.53 260.69 L411.00 261.01 L411.47 261.32 L411.94 261.62 L412.41 261.90 L412.88 262.17 L413.35 262.44 L413.82 262.69 L414.29 262.93 L414.76 263.17 L415.23 263.39 L415.70 263.61 L416.17 263.82 L416.64 264.03 L417.11 264.22 L417.58 264.41 L418.05 264.59 L418.52 264.77 L418.99 264.94 L419.46 265.11 L419.93 265.27 L420.40 265.42 L420.87 265.57 L421.34 265.71 L421.81 265.85 L422.28 265.99 L422.75 266.12 L423.22 266.25 L423.69 266.37 L424.16 266.49 L424.63 266.61 L425.10 266.72 L425.57 266.83 L426.04 266.94 L426.51 267.04 L426.98 267.14 L427.45 267.24 L427.92 267.33 L428.39 267.42 L428.86 267.51 L429.33 267.60 L429.80 267.68 L430.27 267.77 L430.74 267.85 L431.21 267.92 L431.68 268.00 L432.15 268.07 L432.62 268.15 L433.09 268.22 L433.56 268.28 L434.03 268.35 L434.50 268.42 L434.97 268.48 L435.44 268.54 L435.91 268.60 L436.38 268.66 L436.85 268.72 L437.32 268.77 L437.79 268.83 L438.26 268.88 L438.73 268.93 L439.20 268.99 L439.67 269.04 L440.14 269.08 L440.61 269.13 L441.08 269.18 L441.55 269.22 L442.02 269.27 L442.49 269.31 L442.96 269.35 L443.43 269.40 L443.90 269.44 L444.37 269.48 L444.84 269.51 L445.31 269.55 L445.78 269.59 L446.25 269.63 L446.72 269.66 L447.19 269.70 L447.66 269.73 L448.13 269.77 L448.60 269.80 L449.07 269.83 L449.54 269.86 L450.01 269.89 L450.48 269.92 L450.95 269.95 L451.42 269.98 L451.89 270.01 L452.36 270.04 L452.83 270.07 L453.30 270.10 L453.77 270.12 L454.24 270.15 L454.71 270.17 L455.18 270.20 L455.65 270.22 L456.12 270.25 L456.59 270.27 L457.06 270.30 L457.53 270.32 L458.00 270.34"/>
<path d="M152.50 339.79 L152.97 340.16 L153.44 340.56 L153.91 340.99 L154.38 341.44 L154.85 341.88 L155.32 342.33 L155.79 342.77 L156.26 343.19 L156.73 343.59 L157.20 343.97 L157.67 344.32 L158.14 344.64 L158.61 344.94 L159.08 345.20 L159.55 345.44 L160.02 345.64 L160.49 345.81 L160.96 345.94 L161.43 346.05 L161.90 346.12 L162.37 346.16 L162.84 346.18 L163.31 346.16 L163.78 346.11 L164.25 346.04 L164.72 345.94 L165.19 345.80 L165.66 345.65 L166.13 345.46 L166.60 345.25 L167.07 345.02 L167.54 344.76 L168.01 344.48 L168.48 344.18 L168.95 343.86 L169.42 343.51 L169.89 343.15 L170.36 342.77 L170.83 342.38 L171.30 341.97 L171.77 341.56 L172.24 341.13 L172.71 340.70 L173.18 340.26 L173.65 339.83 L174.12 339.39 L174.59 338.97 L175.06 338.55 L175.53 338.14 L176.00 337.75 L176.47 337.37 L176.94 337.01 L177.41 336.68 L177.88 336.37 L178.35 336.08 L178.82 335.81 L179.29 335.57 L179.76 335.35 L180.23 335.15 L180.70 334.97 L181.17 334.81 L181.64 334.65 L182.11 334.50 L182.58 334.36 L183.05 334.21 L183.52 334.06 L183.99 333.90 L184.46 333.73 L184.93 333.54 L185.40 333.32 L185.87 333.08 L186.34 332.81 L186.81 332.50 L187.28 332.15 L187.75 331.77 L188.22 331.34 L188.69 330.86 L189.16 330.34 L189.63 329.76 L190.10 329.13 L190.57 328.45 L191.04 327.71 L191.51 326.91 L191.98 326.05 L192.45 325.14 L192.92 324.16 L193.39 323.12 L193.86 322.02 L194.33 320.86 L194.80 319.65 L195.27 318.38 L195.74 317.06 L196.21 315.69 L196.68 314.28 L197.15 312.84 L197.62 311.37 L198.09 309.88 L198.56 308.38 L199.03 306.89 L199.50 305.43 L199.97 303.99 L200.44 302.61 L200.91 301.31 L201.38 300.09 L201.85 298.97 L202.32 297.99 L202.79 297.15 L203.26 296.47 L203.73 295.96 L204.20 295.64 L204.67 295.52 L205.14 295.59 L205.61 295.86 L206.08 296.32 L206.55 296.97 L207.02 297.80 L207.49 298.79 L207.96 299.93 L208.43 301.21 L208.90 302.59 L209.37 304.08 L209.84 305.64 L210.31 307.26 L210.78 308.93 L211.25 310.62 L211.72 312.33 L212.19 314.04 L212.66 315.74 L213.13 317.42 L213.60 319.07 L214.07 320.69 L214.54 322.27 L215.01 323.81 L215.48 325.30 L215.95 326.74 L216.42 328.13 L216.89 329.47 L217.36 330.76 L217.83 332.00 L218.30 333.19 L218.77 334.33 L219.24 335.42 L219.71 336.46 L220.18 337.45 L220.65 338.40 L221.12 339.31 L221.59 340.17 L222.06 341.00 L222.53 341.78 L223.00 342.53 L223.47 343.24 L223.94 343.92 L224.41 344.57 L224.88 345.18 L225.35 345.77 L225.82 346.32 L226.29 346.85 L226.76 347.36 L227.23 347.84 L227.70 348.30 L228.17 348.74 L228.64 349.15 L229.11 349.55 L229.58 349.93 L230.05 350.29 L230.52 350.63 L230.99 350.96 L231.46 351.27 L231.93 351.57 L232.40 351.86 L232.87 352.14 L233.34 352.40 L233.81 352.65 L234.28 352.89 L234.75 353.12 L235.22 353.34 L235.69 353.55 L236.16 353.76 L236.63 353.95 L237.10 354.14 L237.57 354.32 L238.04 354.49 L238.51 354.66 L238.98 354.82 L239.45 354.97 L239.92 355.12 L240.39 355.26 L240.86 355.40 L241.33 355.53 L241.80 355.66 L242.27 355.78 L242.74 355.90 L243.21 356.02 L243.68 356.13 L244.15 356.23 L244.62 356.34 L245.09 356.44 L245.56 356.53 L246.03 356.62 L246.50 356.71 L246.97 356.80 L247.44 356.88 L247.91 356.96 L248.38 357.04 L248.85 357.12 L249.32 357.19 L249.79 357.26 L250.26 357.33 L250.73 357.39 L251.20 357.45 L251.67 357.52 L252.14 357.57 L252.61 357.63 L253.08 357.69 L253.55 357.74 L254.02 357.79 L254.49 357.84 L254.96 357.89 L255.43 357.93 L255.90 357.97 L256.37 358.02 L256.84 358.06 L257.31 358.10 L257.78 358.13 L258.25 358.17 L258.72 358.20 L259.19 358.24 L259.66 358.27 L260.13 358.30 L260.60 358.33 L261.07 358.35 L261.54 358.38 L262.01 358.40 L262.48 358.43 L262.95 358.45 L263.42 358.47 L263.89 358.49 L264.36 358.50 L264.83 358.52 L265.30 358.54 L265.77 358.55 L266.24 358.56 L266.71 358.58 L267.18 358.59 L267.65 358.59 L268.12 358.60 L268.59 358.61 L269.06 358.61 L269.53 358.62 L270.00 358.62 L270.47 358.62 L270.94 358.62 L271.41 358.62 L271.88 358.62 L272.35 358.62 L272.82 358.61 L273.29 358.60 L273.76 358.60 L274.23 358.59 L274.70 358.58 L275.17 358.56 L275.64 358.55 L276.11 358.53 L276.58 358.52 L277.05 358.50 L277.52 358.48 L277.99 358.46 L278.46 358.43 L278.93 358.40 L279.40 358.38 L279.87 358.35 L280.34 358.31 L280.81 358.28 L281.28 358.24 L281.75 358.20 L282.22 358.16 L282.69 358.12 L283.16 358.07 L283.63 358.02 L284.10 357.97 L284.57 357.91 L285.04 357.86 L285.51 357.79 L285.98 357.73 L286.45 357.66 L286.92 357.59 L287.39 357.51 L287.86 357.43 L288.33 357.34 L288.80 357.25 L289.27 357.16 L289.74 357.06 L290.21 356.96 L290.68 356.85 L291.15 356.73 L291.62 356.61 L292.09 356.48 L292.56 356.35 L293.03 356.21 L293.50 356.06 L293.97 355.90 L294.44 355.74 L294.91 355.57 L295.38 355.40 L295.85 355.21 L296.32 355.01 L296.79 354.81 L297.26 354.60 L297.73 354.38 L298.20 354.15 L298.67 353.91 L299.14 353.66 L299.61 353.40 L300.08 353.13 L300.55 352.85 L301.02 352.56 L301.49 352.26 L301.96 351.96 L302.43 351.64 L302.90 351.32 L303.37 350.99 L303.84 350.65 L304.31 350.31 L304.78 349.96 L305.25 349.62 L305.72 349.27 L306.19 348.93 L306.66 348.58 L307.13 348.25 L307.60 347.92 L308.07 347.61 L308.54 347.32 L309.01 347.04 L309.48 346.78 L309.95 346.55 L310.42 346.34 L310.89 346.17 L311.36 346.02 L311.83 345.91 L312.30 345.84 L312.77 345.80 L313.24 345.80 L313.71 345.83 L314.18 345.89 L314.65 345.99 L315.12 346.12 L315.59 346.28 L316.06 346.46 L316.53 346.67 L317.00 346.89 L317.47 347.13 L317.94 347.39 L318.41 347.65 L318.88 347.92 L319.35 348.19 L319.82 348.46 L320.29 348.74 L320.76 349.00 L321.23 349.27 L321.70 349.52 L322.17 349.77 L322.64 350.00 L323.11 350.23 L323.58 350.44 L324.05 350.64 L324.52 350.83 L324.99 351.00 L325.46 351.16 L325.93 351.31 L326.40 351.44 L326.87 351.56 L327.34 351.67 L327.81 351.77 L328.28 351.85 L328.75 351.93 L329.22 352.00 L329.69 352.06 L330.16 352.12 L330.63 352.17 L331.10 352.22 L331.57 352.28 L332.04 352.34 L332.51 352.40 L332.98 352.47 L333.45 352.55 L333.92 352.64 L334.39 352.74 L334.86 352.85 L335.33 352.97 L335.80 353.09 L336.27 353.23 L336.74 353.37 L337.21 353.52 L337.68 353.67 L338.15 353.82 L338.62 353.97 L339.09 354.12 L339.56 354.26 L340.03 354.40 L340.50 354.54 L340.97 354.67 L341.44 354.79 L341.91 354.91 L342.38 355.02 L342.85 355.12 L343.32 355.22 L343.79 355.31 L344.26 355.39 L344.73 355.46 L345.20 355.52 L345.67 355.58 L346.14 355.63 L346.61 355.68 L347.08 355.71 L347.55 355.74 L348.02 355.77 L348.49 355.79 L348.96 355.80 L349.43 355.81 L349.90 355.81 L350.37 355.80 L350.84 355.79 L351.31 355.77 L351.78 355.75 L352.25 355.72 L352.72 355.69 L353.19 355.65 L353.66 355.61 L354.13 355.56 L354.60 355.51 L355.07 355.45 L355.54 355.39 L356.01 355.32 L356.48 355.25 L356.95 355.17 L357.42 355.08 L357.89 354.99 L358.36 354.89 L358.83 354.79 L359.30 354.68 L359.77 354.57 L360.24 354.45 L360.71 354.32 L361.18 354.19 L361.65 354.05 L362.12 353.90 L362.59 353.74 L363.06 353.58 L363.53 353.41 L364.00 353.23 L364.47 353.04 L364.94 352.84 L365.41 352.63 L365.88 352.41 L366.35 352.19 L366.82 351.95 L367.29 351.70 L367.76 351.44 L368.23 351.16 L368.70 350.87 L369.17 350.57 L369.64 350.26 L370.11 349.93 L370.58 349.58 L371.05 349.22 L371.52 348.84 L371.99 348.44 L372.46 348.02 L372.93 347.58 L373.40 347.13 L373.87 346.65 L374.34 346.15 L374.81 345.62 L375.28 345.07 L375.75 344.49 L376.22 343.89 L376.69 343.26 L377.16 342.60 L377.63 341.91 L378.10 341.19 L378.57 340.43 L379.04 339.65 L379.51 338.83 L379.98 337.97 L380.45 337.08 L380.92 336.16 L381.39 335.19 L381.86 334.20 L382.33 333.16 L382.80 332.09 L383.27 330.98 L383.74 329.84 L384.21 328.67 L384.68 327.46 L385.15 326.21 L385.62 324.94 L386.09 323.64 L386.56 322.32 L387.03 320.97 L387.50 319.59 L387.97 318.20 L388.44 316.79 L388.91 315.36 L389.38 313.92 L389.85 312.47 L390.32 311.01 L390.79 309.55 L391.26 308.09 L391.73 306.63 L392.20 305.17 L392.67 303.74 L393.14 302.32 L393.61 300.94 L394.08 299.60 L394.55 298.32 L395.02 297.10 L395.49 295.97 L395.96 294.93 L396.43 294.01 L396.90 293.22 L397.37 292.58 L397.84 292.11 L398.31 291.81 L398.78 291.70 L399.25 291.79 L399.72 292.07 L400.19 292.56 L400.66 293.24 L401.13 294.11 L401.60 295.16 L402.07 296.37 L402.54 297.73 L403.01 299.21 L403.48 300.81 L403.95 302.49 L404.42 304.25 L404.89 306.05 L405.36 307.89 L405.83 309.74 L406.30 311.60 L406.77 313.45 L407.24 315.28 L407.71 317.08 L408.18 318.84 L408.65 320.56 L409.12 322.23 L409.59 323.85 L410.06 325.42 L410.53 326.93 L411.00 328.38 L411.47 329.77 L411.94 331.11 L412.41 332.39 L412.88 333.61 L413.35 334.78 L413.82 335.90 L414.29 336.97 L414.76 337.98 L415.23 338.95 L415.70 339.87 L416.17 340.75 L416.64 341.59 L417.11 342.38 L417.58 343.14 L418.05 343.85 L418.52 344.54 L418.99 345.19 L419.46 345.81 L419.93 346.40 L420.40 346.96 L420.87 347.49 L421.34 348.00 L421.81 348.48 L422.28 348.94 L422.75 349.38 L423.22 349.79 L423.69 350.19 L424.16 350.57 L424.63 350.93 L425.10 351.28 L425.57 351.61 L426.04 351.93 L426.51 352.23 L426.98 352.52 L427.45 352.79 L427.92 353.06 L428.39 353.31 L428.86 353.56 L429.33 353.79 L429.80 354.01 L430.27 354.23 L430.74 354.44 L431.21 354.64 L431.68 354.83 L432.15 355.01 L432.62 355.19 L433.09 355.36 L433.56 355.53 L434.03 355.69 L434.50 355.84 L434.97 355.99 L435.44 356.13 L435.91 356.27 L436.38 356.41 L436.85 356.54 L437.32 356.66 L437.79 356.78 L438.26 356.90 L438.73 357.02 L439.20 357.13 L439.67 357.23 L440.14 357.34 L440.61 357.44 L441.08 357.54 L441.55 357.63 L442.02 357.72 L442.49 357.81 L442.96 357.90 L443.43 357.98 L443.90 358.07 L444.37 358.15 L444.84 358.22 L445.31 358.30 L445.78 358.37 L446.25 358.44 L446.72 358.51 L447.19 358.58 L447.66 358.65 L448.13 358.71 L448.60 358.78 L449.07 358.84 L449.54 358.90 L450.01 358.95 L450.48 359.01 L450.95 359.07 L451.42 359.12 L451.89 359.17 L452.36 359.22 L452.83 359.27 L453.30 359.32 L453.77 359.37 L454.24 359.42 L454.71 359.46 L455.18 359.51 L455.65 359.55 L456.12 359.59 L456.59 359.64 L457.06 359.68 L457.53 359.72 L458.00 359.76"/>
<path d="M152.50 444.15 L152.97 443.86 L153.44 443.55 L153.91 443.23 L154.38 442.89 L154.85 442.54 L155.32 442.16 L155.79 441.77 L156.26 441.37 L156.73 440.94 L157.20 440.49 L157.67 440.01 L158.14 439.52 L158.61 439.00 L159.08 438.45 L159.55 437.88 L160.02 437.28 L160.49 436.66 L160.96 436.00 L161.43 435.31 L161.90 434.59 L162.37 433.84 L162.84 433.05 L163.31 432.23 L163.78 431.37 L164.25 430.48 L164.72 429.55 L165.19 428.58 L165.66 427.58 L166.13 426.53 L166.60 425.45 L167.07 424.34 L167.54 423.19 L168.01 422.00 L168.48 420.79 L168.95 419.54 L169.42 418.27 L169.89 416.98 L170.36 415.68 L170.83 414.37 L171.30 413.05 L171.77 411.74 L172.24 410.45 L172.71 409.18 L173.18 407.96 L173.65 406.78 L174.12 405.66 L174.59 404.62 L175.06 403.67 L175.53 402.82 L176.00 402.08 L176.47 401.46 L176.94 400.98 L177.41 400.64 L177.88 400.45 L178.35 400.41 L178.82 400.52 L179.29 400.78 L179.76 401.18 L180.23 401.72 L180.70 402.39 L181.17 403.18 L181.64 404.08 L182.11 405.08 L182.58 406.15 L183.05 407.30 L183.52 408.50 L183.99 409.74 L184.46 411.02 L184.93 412.32 L185.40 413.63 L185.87 414.95 L186.34 416.26 L186.81 417.55 L187.28 418.83 L187.75 420.09 L188.22 421.32 L188.69 422.52 L189.16 423.69 L189.63 424.82 L190.10 425.92 L190.57 426.98 L191.04 428.01 L191.51 428.99 L191.98 429.94 L192.45 430.86 L192.92 431.73 L193.39 432.57 L193.86 433.37 L194.33 434.14 L194.80 434.88 L195.27 435.58 L195.74 436.26 L196.21 436.90 L196.68 437.51 L197.15 438.10 L197.62 438.65 L198.09 439.19 L198.56 439.69 L199.03 440.18 L199.50 440.64 L199.97 441.08 L200.44 441.49 L200.91 441.89 L201.38 442.27 L201.85 442.64 L202.32 442.98 L202.79 443.31 L203.26 443.62 L203.73 443.92 L204.20 444.21 L204.67 444.48 L205.14 444.74 L205.61 444.99 L206.08 445.23 L206.55 445.46 L207.02 445.67 L207.49 445.88 L207.96 446.08 L208.43 446.27 L208.90 446.46 L209.37 446.63 L209.84 446.80 L210.31 446.96 L210.78 447.12 L211.25 447.27 L211.72 447.41 L212.19 447.55 L212.66 447.68 L213.13 447.81 L213.60 447.93 L214.07 448.05 L214.54 448.16 L215.01 448.27 L215.48 448.38 L215.95 448.48 L216.42 448.58 L216.89 448.68 L217.36 448.77 L217.83 448.86 L218.30 448.95 L218.77 449.03 L219.24 449.12 L219.71 449.19 L220.18 449.27 L220.65 449.35 L221.12 449.42 L221.59 449.49 L222.06 449.55 L222.53 449.62 L223.00 449.68 L223.47 449.75 L223.94 449.81 L224.41 449.86 L224.88 449.92 L225.35 449.98 L225.82 450.03 L226.29 450.08 L226.76 450.13 L227.23 450.18 L227.70 450.23 L228.17 450.28 L228.64 450.32 L229.11 450.37 L229.58 450.41 L230.05 450.45 L230.52 450.49 L230.99 450.53 L231.46 450.57 L231.93 450.61 L232.40 450.65 L232.87 450.68 L233.34 450.72 L233.81 450.75 L234.28 450.78 L234.75 450.82 L235.22 450.85 L235.69 450.88 L236.16 450.91 L236.63 450.94 L237.10 450.97 L237.57 451.00 L238.04 451.02 L238.51 451.05 L238.98 451.08 L239.45 451.10 L239.92 451.13 L240.39 451.15 L240.86 451.18 L241.33 451.20 L241.80 451.22 L242.27 451.24 L242.74 451.27 L243.21 451.29 L243.68 451.31 L244.15 451.33 L244.62 451.35 L245.09 451.37 L245.56 451.39 L246.03 451.40 L246.50 451.42 L246.97 451.44 L247.44 451.46 L247.91 451.47 L248.38 451.49 L248.85 451.51 L249.32 451.52 L249.79 451.54 L250.26 451.55 L250.73 451.57 L251.20 451.58 L251.67 451.60 L252.14 451.61 L252.61 451.62 L253.08 451.64 L253.55 451.65 L254.02 451.66 L254.49 451.68 L254.96 451.69 L255.43 451.70 L255.90 451.71 L256.37 451.72 L256.84 451.73 L257.31 451.75 L257.78 451.76 L258.25 451.77 L258.72 451.78 L259.19 451.79 L259.66 451.80 L260.13 451.81 L260.60 451.82 L261.07 451.83 L261.54 451.83 L262.01 451.84 L262.48 451.85 L262.95 451.86 L263.42 451.87 L263.89 451.88 L264.36 451.88 L264.83 451.89 L265.30 451.90 L265.77 451.91 L266.24 451.91 L266.71 451.92 L267.18 451.93 L267.65 451.93 L268.12 451.94 L268.59 451.95 L269.06 451.95 L269.53 451.96 L270.00 451.97 L270.47 451.97 L270.94 451.98 L271.41 451.98 L271.88 451.99 L272.35 451.99 L272.82 452.00 L273.29 452.00 L273.76 452.01 L274.23 452.01 L274.70 452.02 L275.17 452.02 L275.64 452.03 L276.11 452.03 L276.58 452.03 L277.05 452.04 L277.52 452.04 L277.99 452.05 L278.46 452.05 L278.93 452.05 L279.40 452.06 L279.87 452.06 L280.34 452.06 L280.81 452.07 L281.28 452.07 L281.75 452.07 L282.22 452.07 L282.69 452.08 L283.16 452.08 L283.63 452.08 L284.10 452.08 L284.57 452.09 L285.04 452.09 L285.51 452.09 L285.98 452.09 L286.45 452.09 L286.92 452.10 L287.39 452.10 L287.86 452.10 L288.33 452.10 L288.80 452.10 L289.27 452.10 L289.74 452.10 L290.21 452.10 L290.68 452.11 L291.15 452.11 L291.62 452.11 L292.09 452.11 L292.56 452.11 L293.03 452.11 L293.50 452.11 L293.97 452.11 L294.44 452.11 L294.91 452.11 L295.38 452.11 L295.85 452.11 L296.32 452.11 L296.79 452.11 L297.26 452.11 L297.73 452.11 L298.20 452.11 L298.67 452.11 L299.14 452.11 L299.61 452.11 L300.08 452.11 L300.55 452.11 L301.02 452.10 L301.49 452.10 L301.96 452.10 L302.43 452.10 L302.90 452.10 L303.37 452.10 L303.84 452.10 L304.31 452.09 L304.78 452.09 L305.25 452.09 L305.72 452.09 L306.19 452.09 L306.66 452.09 L307.13 452.08 L307.60 452.08 L308.07 452.08 L308.54 452.08 L309.01 452.07 L309.48 452.07 L309.95 452.07 L310.42 452.06 L310.89 452.06 L311.36 452.06 L311.83 452.06 L312.30 452.05 L312.77 452.05 L313.24 452.05 L313.71 452.04 L314.18 452.04 L314.65 452.04 L315.12 452.03 L315.59 452.03 L316.06 452.02 L316.53 452.02 L317.00 452.01 L317.47 452.01 L317.94 452.01 L318.41 452.00 L318.88 452.00 L319.35 451.99 L319.82 451.99 L320.29 451.98 L320.76 451.98 L321.23 451.97 L321.70 451.97 L322.17 451.96 L322.64 451.96 L323.11 451.95 L323.58 451.94 L324.05 451.94 L324.52 451.93 L324.99 451.93 L325.46 451.92 L325.93 451.91 L326.40 451.91 L326.87 451.90 L327.34 451.89 L327.81 451.89 L328.28 451.88 L328.75 451.87 L329.22 451.86 L329.69 451.86 L330.16 451.85 L330.63 451.84 L331.10 451.83 L331.57 451.82 L332.04 451.82 L332.51 451.81 L332.98 451.80 L333.45 451.79 L333.92 451.78 L334.39 451.77 L334.86 451.76 L335.33 451.75 L335.80 451.74 L336.27 451.73 L336.74 451.72 L337.21 451.71 L337.68 451.70 L338.15 451.69 L338.62 451.68 L339.09 451.67 L339.56 451.66 L340.03 451.65 L340.50 451.64 L340.97 451.62 L341.44 451.61 L341.91 451.60 L342.38 451.59 L342.85 451.57 L343.32 451.56 L343.79 451.55 L344.26 451.53 L344.73 451.52 L345.20 451.51 L345.67 451.49 L346.14 451.48 L346.61 451.46 L347.08 451.45 L347.55 451.43 L348.02 451.42 L348.49 451.40 L348.96 451.38 L349.43 451.37 L349.90 451.35 L350.37 451.33 L350.84 451.32 L351.31 451.30 L351.78 451.28 L352.25 451.26 L352.72 451.24 L353.19 451.22 L353.66 451.20 L354.13 451.18 L354.60 451.16 L355.07 451.14 L355.54 451.12 L356.01 451.10 L356.48 451.08 L356.95 451.06 L357.42 451.03 L357.89 451.01 L358.36 450.99 L358.83 450.96 L359.30 450.94 L359.77 450.91 L360.24 450.88 L360.71 450.86 L361.18 450.83 L361.65 450.80 L362.12 450.78 L362.59 450.75 L363.06 450.72 L363.53 450.69 L364.00 450.66 L364.47 450.63 L364.94 450.59 L365.41 450.56 L365.88 450.53 L366.35 450.49 L366.82 450.46 L367.29 450.42 L367.76 450.39 L368.23 450.35 L368.70 450.31 L369.17 450.27 L369.64 450.24 L370.11 450.19 L370.58 450.15 L371.05 450.11 L371.52 450.07 L371.99 450.02 L372.46 449.98 L372.93 449.93 L373.40 449.88 L373.87 449.83 L374.34 449.79 L374.81 449.73 L375.28 449.68 L375.75 449.63 L376.22 449.57 L376.69 449.52 L377.16 449.46 L377.63 449.40 L378.10 449.34 L378.57 449.28 L379.04 449.21 L379.51 449.15 L379.98 449.08 L380.45 449.01 L380.92 448.94 L381.39 448.87 L381.86 448.79 L382.33 448.72 L382.80 448.64 L383.27 448.56 L383.74 448.47 L384.21 448.39 L384.68 448.30 L385.15 448.21 L385.62 448.11 L386.09 448.02 L386.56 447.92 L387.03 447.82 L387.50 447.71 L387.97 447.60 L388.44 447.49 L388.91 447.38 L389.38 447.26 L389.85 447.14 L390.32 447.01 L390.79 446.88 L391.26 446.74 L391.73 446.60 L392.20 446.46 L392.67 446.31 L393.14 446.16 L393.61 446.00 L394.08 445.83 L394.55 445.66 L395.02 445.48 L395.49 445.30 L395.96 445.11 L396.43 444.91 L396.90 444.70 L397.37 444.49 L397.84 444.26 L398.31 444.03 L398.78 443.79 L399.25 443.54 L399.72 443.28 L400.19 443.01 L400.66 442.72 L401.13 442.42 L401.60 442.12 L402.07 441.79 L402.54 441.46 L403.01 441.11 L403.48 440.74 L403.95 440.36 L404.42 439.95 L404.89 439.54 L405.36 439.10 L405.83 438.64 L406.30 438.16 L406.77 437.66 L407.24 437.14 L407.71 436.59 L408.18 436.02 L408.65 435.42 L409.12 434.80 L409.59 434.15 L410.06 433.47 L410.53 432.75 L411.00 432.01 L411.47 431.23 L411.94 430.42 L412.41 429.57 L412.88 428.69 L413.35 427.77 L413.82 426.81 L414.29 425.82 L414.76 424.78 L415.23 423.70 L415.70 422.58 L416.17 421.42 L416.64 420.22 L417.11 418.97 L417.58 417.68 L418.05 416.35 L418.52 414.98 L418.99 413.57 L419.46 412.13 L419.93 410.64 L420.40 409.13 L420.87 407.59 L421.34 406.03 L421.81 404.45 L422.28 402.85 L422.75 401.26 L423.22 399.66 L423.69 398.09 L424.16 396.53 L424.63 395.01 L425.10 393.54 L425.57 392.12 L426.04 390.79 L426.51 389.53 L426.98 388.38 L427.45 387.34 L427.92 386.43 L428.39 385.66 L428.86 385.03 L429.33 384.57 L429.80 384.26 L430.27 384.13 L430.74 384.16 L431.21 384.37 L431.68 384.74 L432.15 385.27 L432.62 385.95 L433.09 386.78 L433.56 387.75 L434.03 388.83 L434.50 390.03 L434.97 391.32 L435.44 392.69 L435.91 394.13 L436.38 395.62 L436.85 397.16 L437.32 398.72 L437.79 400.31 L438.26 401.91 L438.73 403.50 L439.20 405.09 L439.67 406.67 L440.14 408.22 L440.61 409.76 L441.08 411.26 L441.55 412.73 L442.02 414.16 L442.49 415.55 L442.96 416.91 L443.43 418.22 L443.90 419.49 L444.37 420.72 L444.84 421.91 L445.31 423.06 L445.78 424.16 L446.25 425.22 L446.72 426.25 L447.19 427.23 L447.66 428.17 L448.13 429.08 L448.60 429.95 L449.07 430.78 L449.54 431.58 L450.01 432.34 L450.48 433.08 L450.95 433.78 L451.42 434.45 L451.89 435.09 L452.36 435.70 L452.83 436.29 L453.30 436.85 L453.77 437.39 L454.24 437.91 L454.71 438.40 L455.18 438.87 L455.65 439.32 L456.12 439.75 L456.59 440.16 L457.06 440.56 L457.53 440.94 L458.00 441.30"/>
<path d="M303.50 80.80L314.10 80.80L308.80 71.70ZM285.70 148.60L296.30 148.60L291.00 138.90ZM315.00 259.10L325.60 259.10L320.30 249.60ZM308.10 348.40L318.70 348.40L313.40 338.80ZM214.30 152.40L221.10 159.20M214.30 159.20L221.10 152.40M211.70 231.80L218.50 238.60M211.70 238.60L218.50 231.80M176.70 332.20L183.50 339.00M176.70 339.00L183.50 332.20M175.10 397.40L181.90 404.20M175.10 404.20L181.90 397.40" stroke-width="1.2"/>
<circle cx="321.7" cy="83.3" r="4.9" stroke-width="1.2"/>
<circle cx="297.9" cy="145.7" r="4.9" stroke-width="1.2"/>
<circle cx="384.8" cy="200.5" r="4.9" stroke-width="1.2"/>
<circle cx="400.3" cy="290.7" r="4.9" stroke-width="1.2"/>
<circle cx="430.6" cy="380.7" r="4.9" stroke-width="1.2"/>
<circle cx="161.6" cy="341.9" r="5.05" stroke-width="1.5"/>
</g>
<text transform="translate(82 76.5) scale(1 0.945)" font-size="16">MgCl<tspan font-size="13" dy="8.8" dx="0.2">2</tspan><tspan dy="-8.8" dx="0.3">·</tspan><tspan dx="3.4">6H</tspan><tspan font-size="13" dy="8.8" dx="0.4">2</tspan><tspan dy="-8.8" dx="0.3">O</tspan></text>
<text transform="translate(82 166.8) scale(1 0.945)" font-size="16">MgCl<tspan font-size="13" dy="8.8" dx="0.2">2</tspan><tspan dy="-8.8" dx="0.3">·</tspan><tspan dx="3.4">4H</tspan><tspan font-size="13" dy="8.8" dx="0.4">2</tspan><tspan dy="-8.8" dx="0.3">O</tspan></text>
<text transform="translate(82 256.7) scale(1 0.945)" font-size="16">MgCl<tspan font-size="13" dy="8.8" dx="0.2">2</tspan><tspan dy="-8.8" dx="0.3">·</tspan><tspan dx="3.4">2H</tspan><tspan font-size="13" dy="8.8" dx="0.4">2</tspan><tspan dy="-8.8" dx="0.3">O</tspan></text>
<text transform="translate(82 347.4) scale(1 0.945)" font-size="16">MgCl<tspan font-size="13" dy="8.8" dx="0.2">2</tspan><tspan dy="-8.8" dx="0.3">·</tspan><tspan dx="4.1">H</tspan><tspan font-size="13" dy="8.8" dx="0.4">2</tspan><tspan dy="-8.8" dx="-0.2">O</tspan></text>
<text transform="translate(82 437.5) scale(1 0.945)" font-size="16">MgCl<tspan font-size="13" dy="8.8" dx="0.2">2</tspan></text>
</svg></body></html>
